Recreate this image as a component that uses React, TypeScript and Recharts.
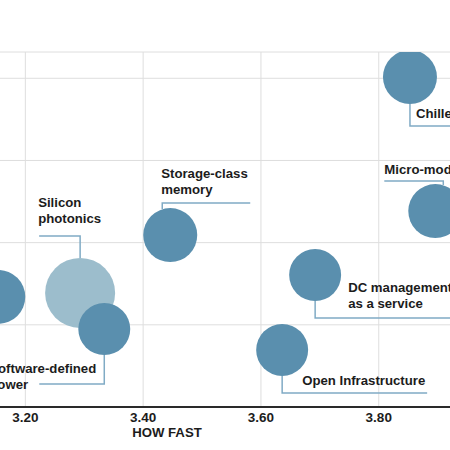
import React from "react";
import {
  ScatterChart,
  Scatter,
  XAxis,
  YAxis,
  ZAxis,
  CartesianGrid,
  Cell,
} from "recharts";

const technologies = [
  "",
  "Silicon photonics",
  "Software-defined power",
  "Storage-class memory",
  "Chillers",
  "Micro-modular",
  "DC management as a service",
  "Open Infrastructure",
];
const howFast = [3.154, 3.293, 3.334, 3.446, 3.853, 3.896, 3.692, 3.636];
const howMuch = [2.67, 2.694, 2.474, 3.046, 4.008, 3.192, 2.803, 2.347];
const impact = [2.29, 3.85, 2.12, 2.29, 2.29, 2.29, 2.12, 2.12];
const maturity = ["near", "far", "near", "near", "near", "near", "near", "near"];
const xTicks = [3.2, 3.4, 3.6, 3.8];
const yTicks = [2.5, 3.0, 3.5, 4.0];

const X_DOMAIN: [number, number] = [3.05, 4.05];
const Y_DOMAIN: [number, number] = [2.0, 4.16];

const data = technologies.map((name, i) => ({
  name,
  x: howFast[i],
  y: howMuch[i],
  z: impact[i],
  maturity: maturity[i],
}));

const COLORS: Record<string, string> = { near: "#5a8fae", far: "#9cbdcc" };
const LINE = "#80abc5";
const TEXT = "#1c1c1c";
const FONT = "'Liberation Sans', Arial, sans-serif";

// label placement relative to the bubble centre
type Layout = {
  lines: string[];
  tx: number;
  ty: number[];
  path: [number, number][];
};
const LAYOUT: Record<string, Layout> = {
  "Silicon photonics": {
    lines: ["Silicon", "photonics"],
    tx: -42,
    ty: [-86, -70],
    path: [[0, -35], [0, -57], [-41, -57]],
  },
  "Software-defined power": {
    lines: ["Software-defined", "power"],
    tx: -115,
    ty: [44, 60],
    path: [[0, 26], [0, 55], [-65, 55]],
  },
  "Storage-class memory": {
    lines: ["Storage-class", "memory"],
    tx: -9,
    ty: [-57, -41],
    path: [[-8, -26], [-8, -32], [80, -32]],
  },
  Chillers: {
    lines: ["Chillers"],
    tx: 6,
    ty: [41],
    path: [[0, 27], [0, 49], [120, 49]],
  },
  "Micro-modular": {
    lines: ["Micro-modular"],
    tx: -51,
    ty: [-37],
    path: [[-51, -30], [8, -30], [8, -26]],
  },
  "DC management as a service": {
    lines: ["DC management", "as a service"],
    tx: 33,
    ty: [17, 33],
    path: [[0, 26], [0, 43], [160, 43]],
  },
  "Open Infrastructure": {
    lines: ["Open Infrastructure"],
    tx: 20,
    ty: [35],
    path: [[0, 26], [0, 43], [145, 43]],
  },
};

const BubbleLabel = (props: any) => {
  const { cx, cy, payload } = props;
  const layout = LAYOUT[payload?.name];
  if (!layout) return <g />;
  const d = layout.path
    .map(([dx, dy], i) => `${i ? "L" : "M"}${cx + dx},${cy + dy}`)
    .join(" ");
  return (
    <g>
      <path d={d} fill="none" stroke={LINE} strokeWidth={1.5} />
      {layout.lines.map((line, i) => (
        <text
          key={line}
          x={cx + layout.tx}
          y={cy + layout.ty[i]}
          fontSize={13.2}
          fontWeight="bold"
          fontFamily={FONT}
          fill={TEXT}
        >
          {line}
        </text>
      ))}
    </g>
  );
};

const AxisTitle = (props: any) => {
  const { viewBox } = props;
  if (!viewBox) return null;
  const { x, y, width } = viewBox;
  const at34 = x + ((3.4 - X_DOMAIN[0]) / (X_DOMAIN[1] - X_DOMAIN[0])) * width;
  return (
    <text
      x={at34 - 11}
      y={y + 29.5}
      fontSize={13.2}
      fontWeight="bold"
      fontFamily={FONT}
      fill={TEXT}
    >
      HOW FAST
    </text>
  );
};

export default function App() {
  return (
    <div
      style={{
        position: "fixed",
        left: 0,
        top: 0,
        width: 450,
        height: 450,
        overflow: "hidden",
        background: "#fff",
      }}
    >
      <div style={{ marginLeft: -63 }}>
        <ScatterChart
          width={589}
          height={450}
          margin={{ top: 52, right: 0, bottom: 13, left: 0 }}
        >
          <CartesianGrid stroke="#dedede" strokeWidth={1} />
          <XAxis
            type="number"
            dataKey="x"
            domain={X_DOMAIN}
            ticks={xTicks}
            tickFormatter={(v: number) => v.toFixed(2)}
            tickLine={false}
            tickSize={5}
            tickMargin={0}
            height={30}
            axisLine={{ stroke: "#2a2a2a", strokeWidth: 2 }}
            tick={{
              fill: TEXT,
              fontSize: 13.5,
              fontWeight: "bold",
              fontFamily: FONT,
            }}
            allowDataOverflow
            label={<AxisTitle />}
          />
          <YAxis
            type="number"
            dataKey="y"
            domain={Y_DOMAIN}
            ticks={yTicks}
            hide
            allowDataOverflow
          />
          <ZAxis type="number" dataKey="z" domain={[0, 4]} range={[0, 4000]} />
          <Scatter data={data} isAnimationActive={false}>
            {data.map((d) => (
              <Cell key={d.name || "unnamed"} fill={COLORS[d.maturity]} />
            ))}
          </Scatter>
          <Scatter data={data} shape={<BubbleLabel />} isAnimationActive={false} />
        </ScatterChart>
      </div>
    </div>
  );
}
